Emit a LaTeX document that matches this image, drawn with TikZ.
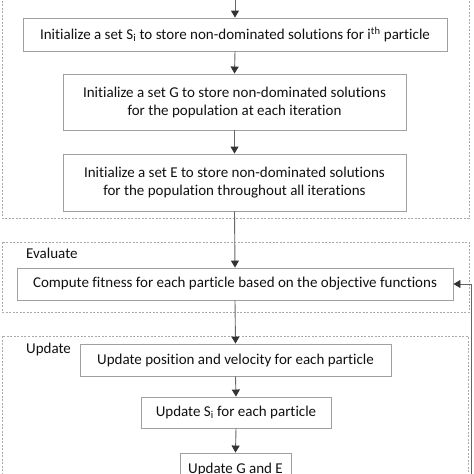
\documentclass[tikz,border=0pt]{standalone}
\usepackage{fontspec}
\setmainfont{Carlito}[Ligatures={NoCommon}]
\usetikzlibrary{arrows.meta}
\definecolor{boxgray}{HTML}{A0A0A0}
\definecolor{linegray}{HTML}{666666}
\definecolor{dashgray}{HTML}{AAAAAA}
\definecolor{txt}{HTML}{111111}
\begin{document}
\begin{tikzpicture}[x=1pt,y=-1pt,
  stepbox/.style={draw=boxgray,line width=0.9pt,fill=white,inner sep=0pt,align=center,font=\fontsize{15}{18}\selectfont,text=txt},
  conn/.style={draw=linegray,line width=0.9pt,-{Triangle[width=8pt,length=7pt,fill=black!80,color=black!80]}},
  group/.style={draw=dashgray,line width=0.9pt,dash pattern=on 2pt off 1.5pt},
  glabel/.style={anchor=west,inner sep=0pt,font=\fontsize{15}{18}\selectfont,text=txt}]
\useasboundingbox (0,0) rectangle (474,474);
\clip (0,0) rectangle (474,474);
\fill[white] (0,0) rectangle (474,474);
% groups
\draw[group] (2,-10) rectangle (469,218);
\draw[group] (2,242) rectangle (469,312);
\draw[group] (2,336) rectangle (468,500);
\node[glabel] (levaluate) at (26,253) {Evaluate};
\node[glabel] (lupdate) at (26,349) {Update};
% nodes
\node[stepbox,minimum width=424pt,minimum height=33pt] (b1) at (235,34.5) {Initialize a set S\textsubscript{i} to store non-dominated solutions for i\textsuperscript{th} particle};
\node[stepbox,minimum width=343pt,minimum height=56pt] (b2) at (234.5,102) {Initialize a set G to store non-dominated solutions\\for the population at each iteration};
\node[stepbox,minimum width=343pt,minimum height=57pt] (b3) at (234.5,182.5) {Initialize a set E to store non-dominated solutions\\for the population throughout all iterations};
\node[stepbox,minimum width=436pt,minimum height=32pt] (fit) at (235,284) {Compute fitness for each particle based on the objective functions};
\node[stepbox,minimum width=311pt,minimum height=32pt] (pos) at (235.5,360) {Update position and velocity for each particle};
\node[stepbox,minimum width=190pt,minimum height=31pt] (si) at (236,412.5) {Update S\textsubscript{i} for each particle};
\node[stepbox,minimum width=111pt,minimum height=33pt] (ge) at (235.5,469.5) {Update G and E};
% connectors
\coordinate (top) at (235,-5);
\coordinate (loopin) at (471,490);
\draw[conn] (top) -- (b1.north);
\draw[conn] (b1.south) -- (b2.north);
\draw[conn] (b2.south) -- (b3.north);
\draw[conn] (b3.south) -- (fit.north);
\draw[conn] (fit.south) -- (pos.north);
\draw[conn] (pos.south) -- (si.north);
\draw[conn] (si.south) -- (ge.north);
\draw[conn] (loopin) |- (fit.east);
\end{tikzpicture}
\end{document}
